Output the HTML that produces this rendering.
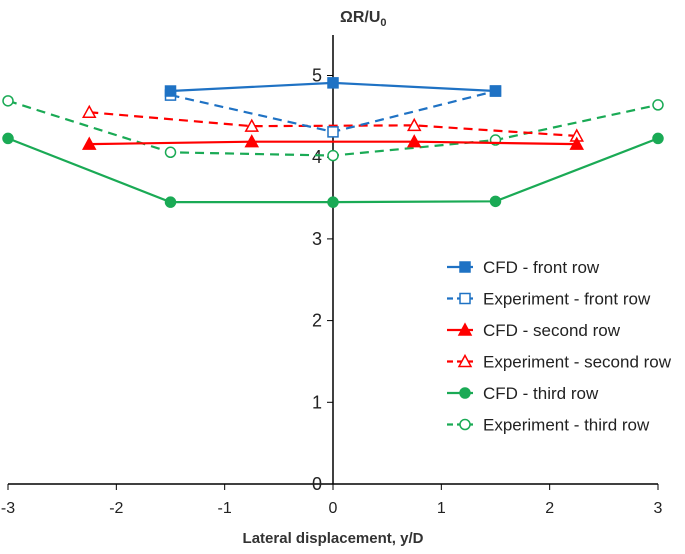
<!DOCTYPE html>
<html><head><meta charset="utf-8"><style>
body{margin:0;background:#fff;font-family:"Liberation Sans",sans-serif}
svg text{font-family:"Liberation Sans",sans-serif}
</style></head><body>
<svg id="chart" width="685" height="549" xmlns="http://www.w3.org/2000/svg">
<g id="axes"></g><g id="series"></g><g id="legend"></g>
</svg>
<script>
const xTicks=[-3,-2,-1,0,1,2,3];
const yTicks=[0,1,2,3,4,5];
const xFront=[-1.5,0,1.5];
const cfdFront=[4.81,4.91,4.81];
const expFront=[4.76,4.31,4.81];
const xSecond=[-2.25,-0.75,0.75,2.25];
const cfdSecond=[4.16,4.19,4.19,4.16];
const expSecond=[4.55,4.38,4.39,4.26];
const xThird=[-3,-1.5,0,1.5,3];
const cfdThird=[4.23,3.45,3.45,3.46,4.23];
const expThird=[4.69,4.06,4.02,4.21,4.64];
const seriesNames=["CFD - front row","Experiment - front row","CFD - second row","Experiment - second row","CFD - third row","Experiment - third row"];

const NS="http://www.w3.org/2000/svg";
const X=v=>333+v*108.33, Y=v=>484-v*81.7;
function mk(t,a,p){const e=document.createElementNS(NS,t);for(const k in a)e.setAttribute(k,a[k]);p.appendChild(e);return e;}
const axes=document.getElementById('axes'),ser=document.getElementById('series'),leg=document.getElementById('legend');
let e=mk('line',{x1:8,x2:658,y1:484,y2:484,stroke:'#000','stroke-width':1.5},axes);

e=mk('line',{x1:333,x2:333,y1:35,y2:484,stroke:'#000','stroke-width':1.5},axes);

xTicks.forEach(v=>{mk('line',{x1:X(v),x2:X(v),y1:484,y2:490,stroke:'#000'},axes);
 const t=mk('text',{x:X(v),y:513,'text-anchor':'middle','font-size':16,fill:'#222'},axes);t.textContent=v;
 });
yTicks.forEach(v=>{if(v>0)mk('line',{x1:327,x2:333,y1:Y(v),y2:Y(v),stroke:'#000'},axes);
 const t=mk('text',{x:322,y:Y(v)+6,'text-anchor':'end','font-size':18,fill:'#222'},axes);t.textContent=v;
 });
e=mk('text',{x:333,y:543,'text-anchor':'middle','font-size':15,'font-weight':'bold',fill:'#333'},axes);
e.textContent='Lateral displacement, y/D';
e=mk('text',{x:340,y:22,'font-size':16,'font-weight':'bold',fill:'#333'},axes);
e.innerHTML='ΩR/U<tspan font-size="11" dy="4">0</tspan>';

function marker(kind,fill,col,cx,cy,p){
 if(kind==='sq')return mk('rect',{x:cx-5,y:cy-5,width:10,height:10,fill:fill?col:'#fff',stroke:col,'stroke-width':1.5},p);
 if(kind==='tri')return mk('polygon',{points:`${cx},${cy-6} ${cx+6},${cy+5} ${cx-6},${cy+5}`,fill:fill?col:'#fff',stroke:col,'stroke-width':1.5},p);
 return mk('circle',{cx:cx,cy:cy,r:5,fill:fill?col:'#fff',stroke:col,'stroke-width':1.5},p);
}
const defs=[[xFront,cfdFront,'#1f72c4','sq',true,false],[xFront,expFront,'#1f72c4','sq',false,true],
[xSecond,cfdSecond,'#f00','tri',true,false],[xSecond,expSecond,'#f00','tri',false,true],
[xThird,cfdThird,'#1aaa55','circ',true,false],[xThird,expThird,'#1aaa55','circ',false,true]];
const slugs=['cfd-front','exp-front','cfd-second','exp-second','cfd-third','exp-third'];
const order=[5,4,3,2,1,0];
order.forEach(i=>{const [xs,ys,col,k,fill,dash]=defs[i];
 const g=mk('g',{},ser);
 const l=mk('polyline',{points:xs.map((x,j)=>X(x)+','+Y(ys[j])).join(' '),fill:'none',stroke:col,'stroke-width':2.2,'stroke-dasharray':dash?'9,6':'none'},g);
 
 xs.forEach((x,j)=>{const m=marker(k,fill,col,X(x),Y(ys[j]),g);});
});
defs.forEach((d,i)=>{const [xs,ys,col,k,fill,dash]=d;
 const ly=267+i*31.5;
 const lg=mk('g',{},leg);
 mk('line',{x1:447,x2:473,y1:ly,y2:ly,stroke:col,'stroke-width':2.2,'stroke-dasharray':dash?'6,4':'none'},lg);
 marker(k,fill,col,465,ly,lg);
 const t=mk('text',{x:483,y:ly+6,'font-size':17,fill:'#222',textLength:0},lg);t.removeAttribute('textLength');t.textContent=seriesNames[i];
});
</script>
</body></html>
